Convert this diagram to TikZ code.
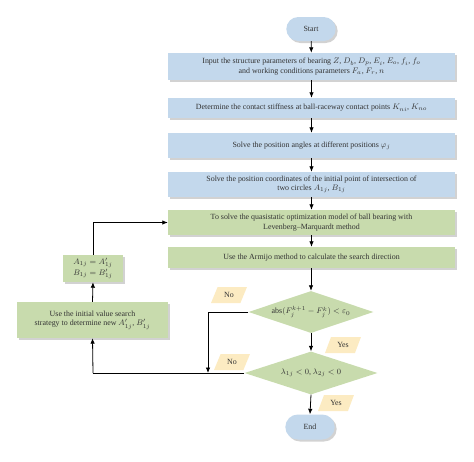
\documentclass[tikz,border=0pt]{standalone}
\usepackage{fontspec}
\setmainfont{Liberation Serif}
\usetikzlibrary{shapes.geometric,shapes.misc,shadows,arrows.meta}
\definecolor{bluebox}{HTML}{C3D8EC}
\definecolor{greenbox}{HTML}{C8DBAD}
\definecolor{yellowlab}{HTML}{FCEBC2}
\begin{document}
\begin{tikzpicture}[x=1pt,y=-1pt,
  every node/.style={font=\fontsize{7.9}{9.2}\selectfont, text=black!80},
  sh/.style={drop shadow={shadow xshift=2pt,shadow yshift=-2pt,fill=black!35}},
  bbox/.style={rectangle, fill=bluebox, sh, minimum width=287pt, align=center, inner sep=1pt},
  gbox/.style={rectangle, fill=greenbox, sh, align=center, inner sep=1pt},
  term/.style={rounded rectangle, fill=bluebox, sh, minimum width=56pt, minimum height=24pt},
  dec/.style={diamond, fill=greenbox, inner sep=0pt, aspect=3},
  lab/.style={trapezium, trapezium left angle=65, trapezium right angle=115, fill=yellowlab, minimum width=36pt, minimum height=16pt, inner sep=1pt, trapezium stretches=true},
  arr/.style={-{Latex[length=5.5pt,width=4.5pt]}, line width=0.8pt, black},
  ln/.style={line width=0.8pt, black}]
\useasboundingbox (0,0) rectangle (474,461);
\node[term] (start) at (311,29) {Start};
\node[bbox, minimum height=27pt] (b1) at (311.5,66.5) {Input the structure parameters of bearing $Z$, $D_b$, $D_p$, $E_i$, $E_o$, $f_i$, $f_o$\\ and working conditions parameters $F_a$, $F_r$, $n$};
\node[bbox, minimum height=20pt] (b2) at (311.5,108) {Determine the contact stiffness at ball-raceway contact points $K_{ni}$, $K_{no}$};
\node[bbox, minimum height=25pt] (b3) at (311.5,145.5) {Solve the position angles at different positions $\varphi_j$};
\node[bbox, minimum height=25pt] (b4) at (311.5,184.5) {Solve the position coordinates of the initial point of intersection of\\ two circles $A_{1j}$, $B_{1j}$};
\node[gbox, minimum width=287pt, minimum height=25pt] (b5) at (311.5,222.5) {To solve the quasistatic optimization model of ball bearing with\\ Levenberg--Marquardt method};
\node[gbox, minimum width=287pt, minimum height=21pt] (b6) at (311.5,257.5) {Use the Armijo method to calculate the search direction};
\node[dec, minimum width=125pt, minimum height=42pt] (d1) at (311,312) {abs$(F_j^{k+1}-F_j^{k})<\varepsilon_0$};
\node[dec, minimum width=133pt, minimum height=43pt] (d2) at (311,373) {$\lambda_{1j}<0$, $\lambda_{2j}<0$};
\node[term, minimum height=25pt] (end) at (310,427) {End};
\node[gbox, minimum width=151pt, minimum height=36pt] (init) at (92.5,320) {Use the initial value search\\ strategy to determine new $A'_{1j}$, $B'_{1j}$};
\node[gbox, minimum width=60pt, minimum height=27pt] (ab) at (93,268.5) {$A_{1j}=A'_{1j}$\\ $B_{1j}=B'_{1j}$};
\node[lab] (no1) at (229,295) {No};
\node[lab] (no2) at (232,362) {No};
\node[lab] (yes1) at (343,345) {Yes};
\node[lab] (yes2) at (336,403) {Yes};
\coordinate (c1) at (208,312);
\coordinate (c2) at (208,373);
\coordinate (c3) at (93,373);
\coordinate (c4) at (93,222.5);
\draw[arr] (start) -- (b1);
\draw[arr] (b1) -- (b2);
\draw[arr] (b2) -- (b3);
\draw[arr] (b3) -- (b4);
\draw[arr] (b4) -- (b5);
\draw[arr] (b5) -- (b6);
\draw[arr] (b6.south -| d1.north) -- (d1.north);
\draw[arr] (d1.south) -- (d2.north);
\draw[arr] (d2.south) -- (end.north);
\draw[ln] (d1.west) -- (c1);
\draw[arr] (c1) -- (c2);
\draw[ln] (d2.west) -- (c3);
\draw[arr] (c3) -- (init.south);
\draw[arr] (init.north) -- (ab.south);
\draw[ln] (ab.north) -- (c4);
\draw[arr] (c4) -- (b5.west);
\end{tikzpicture}
\end{document}
